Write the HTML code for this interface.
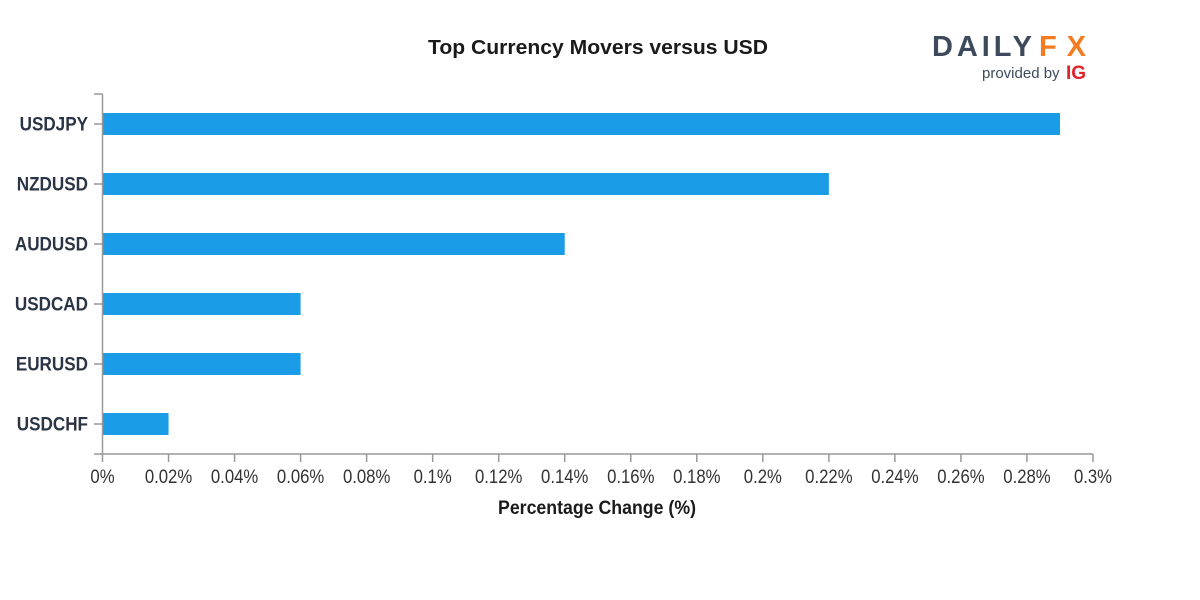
<!DOCTYPE html>
<html><head><meta charset="utf-8"><style>
html,body{margin:0;padding:0;background:#fff;}
svg{display:block;font-family:"Liberation Sans",sans-serif;}
</style></head><body>
<svg id="chart" width="1200" height="600">
  <text x="598" y="54" text-anchor="middle" font-size="20" font-weight="bold" fill="#1a1a1a" textLength="340" lengthAdjust="spacingAndGlyphs">Top Currency Movers versus USD</text>
  <g>
    <text x="932" y="56" font-size="29" font-weight="bold" fill="#3d4a5c" textLength="100" lengthAdjust="spacing">DAILY</text>
    <text x="1039" y="56" font-size="29" font-weight="bold" fill="#f47b20" textLength="47" lengthAdjust="spacing">FX</text>
    <text x="982" y="78" font-size="15" fill="#3d4a5c">provided by</text>
    <text x="1066" y="79" font-size="19" font-weight="bold" fill="#e3222b">IG</text>
  </g>
  <g id="plot"></g>
  <text x="597" y="514" text-anchor="middle" font-size="19" font-weight="bold" fill="#1a1a1a" textLength="198" lengthAdjust="spacingAndGlyphs">Percentage Change (%)</text>
</svg>
<script>
const categories = ["USDJPY","NZDUSD","AUDUSD","USDCAD","EURUSD","USDCHF"];
const values = [0.29,0.22,0.14,0.06,0.06,0.02];
const tickValues = [0,0.02,0.04,0.06,0.08,0.1,0.12,0.14,0.16,0.18,0.2,0.22,0.24,0.26,0.28,0.3];
const tickLabels = ["0%","0.02%","0.04%","0.06%","0.08%","0.1%","0.12%","0.14%","0.16%","0.18%","0.2%","0.22%","0.24%","0.26%","0.28%","0.3%"];

const NS="http://www.w3.org/2000/svg";
const x0=102.5,x1=1093,y0=94,y1=454;
const xMax=0.3;
const xs=v=>x0+(v/xMax)*(x1-x0);
const band=(y1-y0)/categories.length;
const ys=i=>y0+band*i+band/2;
const g=document.getElementById('plot');
function mk(t,a){const e=document.createElementNS(NS,t);for(const k in a)e.setAttribute(k,a[k]);g.appendChild(e);return e;}

values.forEach((v,i)=>{
  const r=mk('rect',{x:x0,y:ys(i)-11,width:xs(v)-x0,height:22,fill:'#1a9de6'});
  
  
});
const ya=mk('line',{x1:x0,y1:y0,x2:x0,y2:y1,stroke:'#999','stroke-width':1.5});


const xa=mk('line',{x1:94,y1:y1,x2:x1,y2:y1,stroke:'#999','stroke-width':1.5});


mk('line',{x1:94,y1:y0,x2:x0,y2:y0,stroke:'#999','stroke-width':1.5});
categories.forEach((c,i)=>{
  mk('line',{x1:94,y1:ys(i),x2:x0,y2:ys(i),stroke:'#999','stroke-width':1.5});
  const t=mk('text',{x:88,y:ys(i)+6.5,'text-anchor':'end','font-size':19,'font-weight':'bold',fill:'#2b3445',transform:'translate(88,0) scale(0.9,1) translate(-88,0)'});
  t.textContent=c;
  
  
});
tickValues.forEach((v,i)=>{
  mk('line',{x1:xs(v),y1:y1,x2:xs(v),y2:y1+8,stroke:'#999','stroke-width':1.5});
  const t=mk('text',{x:xs(v),y:483,'text-anchor':'middle','font-size':19,fill:'#333',transform:`translate(${xs(v)},0) scale(0.88,1) translate(${-xs(v)},0)`});
  t.textContent=tickLabels[i];
  
  
});
</script>
</body></html>
